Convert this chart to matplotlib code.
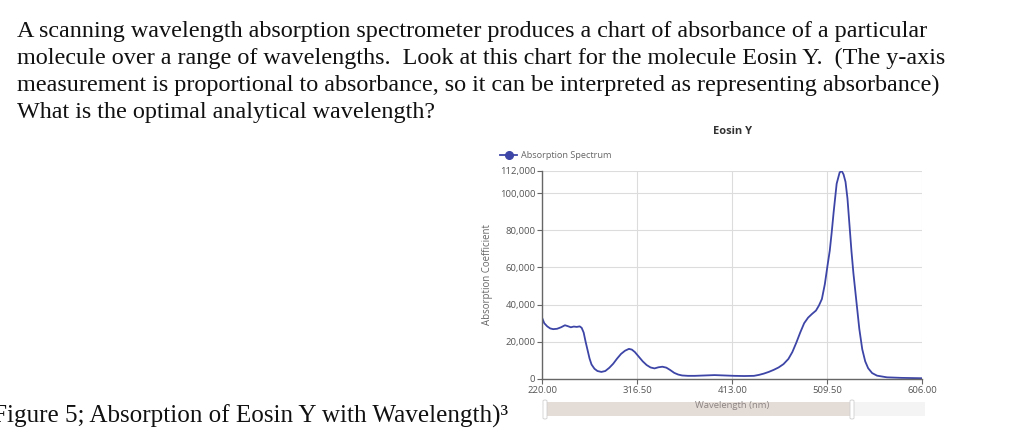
import matplotlib
matplotlib.use("Agg")
import matplotlib.pyplot as plt
from matplotlib.patches import Rectangle, FancyBboxPatch
from matplotlib.lines import Line2D
from matplotlib.ticker import FuncFormatter

# ---------------- data ----------------
question_lines = [
    "A scanning wavelength absorption spectrometer produces a chart of absorbance of a particular",
    "molecule over a range of wavelengths.  Look at this chart for the molecule Eosin Y.  (The y-axis",
    "measurement is proportional to absorbance, so it can be interpreted as representing absorbance)",
    "What is the optimal analytical wavelength?",
]
caption = "Figure 5; Absorption of Eosin Y with Wavelength)\u00b3"
chart_title = "Eosin Y"
series_name = "Absorption Spectrum"
x_label = "Wavelength (nm)"
y_label = "Absorption Coefficient"

wavelength = [220, 222, 225, 228, 231, 235, 239, 243, 246, 249, 252, 255, 258, 260,
              262, 264, 266, 268, 270, 273, 276, 280, 284, 288, 292, 296, 300, 304,
              308, 311, 314, 318, 322, 326, 330, 334, 338, 342, 346, 350, 354, 358,
              362, 368, 375, 385, 395, 405, 415, 425, 435, 440, 445, 450, 455, 460,
              465, 470, 474, 478, 482, 486, 490, 494, 498, 501, 504, 507, 510, 512,
              514, 516, 519, 522, 524, 526, 528, 530, 532, 534, 536, 539, 542, 545,
              548, 551, 555, 560, 570, 585, 606, 620, 650, 680, 697]
absorption = [32600, 30000, 28300, 27200, 26800, 27000, 27800, 28900, 28400, 27800,
              28200, 28000, 28300, 27500, 25000, 20000, 15500, 11000, 7800, 5500,
              4300, 3800, 4300, 6000, 8200, 11000, 13500, 15200, 16200, 15800, 14500,
              12000, 9500, 7500, 6200, 5700, 6300, 6600, 6100, 4800, 3300, 2400, 1900,
              1700, 1700, 1900, 2100, 1900, 1700, 1600, 1700, 2200, 2900, 3800, 4900,
              6200, 8000, 10800, 14500, 19500, 25000, 30000, 33000, 35000, 36800,
              39500, 43000, 51000, 62000, 69000, 79000, 90000, 105000, 111000, 112000,
              110000, 106000, 97000, 83000, 69000, 57000, 42000, 27000, 16000, 9500,
              5800, 3200, 1800, 900, 600, 400, 300, 250, 200, 200]
x_ticks = [220.00, 316.50, 413.00, 509.50, 606.00]
y_ticks = [0, 20000, 40000, 60000, 80000, 100000, 112000]

# ---------------- figure ----------------
W, H = 1024, 442
fig = plt.figure(figsize=(W / 100, H / 100), dpi=100)
fig.patch.set_facecolor("white")

def fx(px):
    return px / W

def fy(py):
    return 1 - py / H

serif = ["Liberation Serif", "DejaVu Serif"]
sans = ["Open Sans", "DejaVu Sans"]

# question text
baselines = [37, 64, 91, 118]
for line, b in zip(question_lines, baselines):
    fig.text(fx(17), fy(b), line, family=serif, fontsize=17.4, color="#111111",
             va="baseline", ha="left")

fig.text(fx(-7), fy(423), caption, family=serif, fontsize=18.1, color="#111111",
         va="baseline", ha="left")

# main axes
L, R, T, B = 542.3, 922.3, 170.7, 379.0
ax = fig.add_axes([fx(L), fy(B), (R - L) / W, (B - T) / H])
line_color = "#3d45a6"
ax.plot(wavelength, absorption, color=line_color, lw=1.3, solid_joinstyle="round")
ax.set_xlim(220, 606)
ax.set_ylim(0, 112000)
ax.set_xticks(x_ticks)
ax.set_yticks(y_ticks)
ax.xaxis.set_major_formatter(FuncFormatter(lambda v, p: f"{v:.2f}"))
ax.yaxis.set_major_formatter(FuncFormatter(lambda v, p: f"{int(v):,}"))
for lab in ax.get_xticklabels() + ax.get_yticklabels():
    lab.set_family(sans)
    lab.set_fontsize(6.8)
    lab.set_color("#555555")
ax.tick_params(axis="both", length=3.5, width=0.8, color="#666666", pad=1.5)
ax.grid(True, color="#dcdcdc", lw=0.8)
ax.set_axisbelow(True)
for s in ["top", "right"]:
    ax.spines[s].set_visible(False)
for s in ["left", "bottom"]:
    ax.spines[s].set_color("#666666")
    ax.spines[s].set_linewidth(1.0)
ax.set_ylabel(y_label, family=sans, fontsize=6.9, color="#666666", labelpad=5)

fig.text(fx(732.3), fy(131), chart_title, family=sans, fontsize=8.0,
         fontweight="bold", color="#333333", ha="center", va="center")

# legend
fig.add_artist(Line2D([fx(500), fx(517)], [fy(155), fy(155)], color=line_color, lw=1.3))
fig.add_artist(Line2D([fx(508.5)], [fy(155)], marker="o", ms=5.5, color=line_color))
fig.text(fx(521), fy(155), series_name, family=sans, fontsize=6.6, color="#666666",
         ha="left", va="center")

# range slider below the chart
sl_L, sl_R, sl_T, sl_B, handle = 545, 925, 402, 416, 852
fig.add_artist(Rectangle((fx(sl_L), fy(sl_B)), (handle - sl_L) / W, (sl_B - sl_T) / H,
                         transform=fig.transFigure, facecolor="#e4dcd7", edgecolor="none"))
fig.add_artist(Rectangle((fx(handle), fy(sl_B)), (sl_R - handle) / W, (sl_B - sl_T) / H,
                         transform=fig.transFigure, facecolor="#f4f4f4", edgecolor="none"))
sax = fig.add_axes([fx(sl_L), fy(sl_B), (sl_R - sl_L) / W, (sl_B - sl_T) / H])
sax.patch.set_alpha(0)
sax.plot(wavelength, absorption, color="#c4b6ae", lw=0.9)
sax.set_xlim(220, 697)
sax.set_ylim(-35000, 120000)
sax.axis("off")
fig.text(fx(731.7), fy(405.5), x_label, family=sans, fontsize=6.8, color="#8c8583",
         ha="center", va="center")
for hx in (sl_L, handle):
    fig.add_artist(FancyBboxPatch((fx(hx - 2), fy(419)), 4 / W, 19 / H,
                                  boxstyle="round,pad=0,rounding_size=0.002",
                                  transform=fig.transFigure, facecolor="white",
                                  edgecolor="#d0d0d0", lw=0.6))

fig.savefig("out.png", dpi=100)
